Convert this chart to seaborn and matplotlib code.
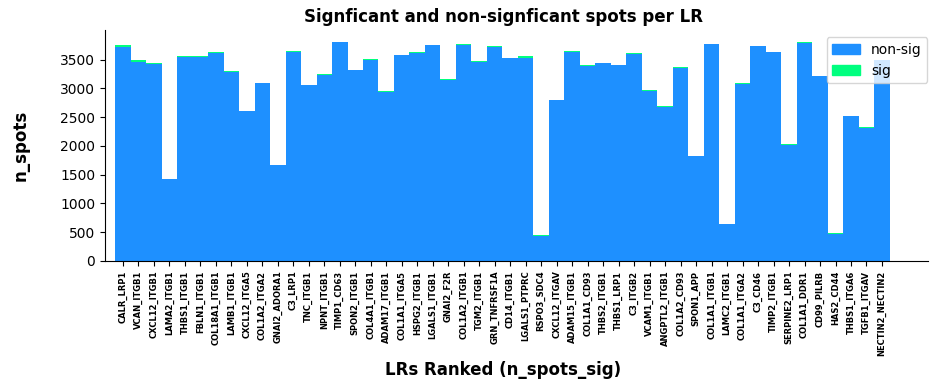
import matplotlib
matplotlib.use('Agg')
import matplotlib.pyplot as plt
import matplotlib.patches as mpatches
import pandas as pd
import numpy as np
import seaborn as sns

lrs = ['CALR_LRP1', 'VCAN_ITGB1', 'CXCL12_ITGB1', 'LAMA2_ITGB1', 'THBS1_ITGB1',
       'FBLN1_ITGB1', 'COL18A1_ITGB1', 'LAMB1_ITGB1', 'CXCL12_ITGA5', 'COL1A2_ITGA2',
       'GNAI2_ADORA1', 'C3_LRP1', 'TNC_ITGB1', 'NPNT_ITGB1', 'TIMP1_CD63',
       'SPON2_ITGB1', 'COL4A1_ITGB1', 'ADAM17_ITGB1', 'COL1A1_ITGA5', 'HSPG2_ITGB1',
       'LGALS1_ITGB1', 'GNAI2_F2R', 'COL1A2_ITGB1', 'TGM2_ITGB1', 'GRN_TNFRSF1A',
       'CD14_ITGB1', 'LGALS1_PTPRC', 'RSPO3_SDC4', 'CXCL12_ITGAV', 'ADAM15_ITGB1',
       'COL1A1_CD93', 'THBS2_ITGB1', 'THBS1_LRP1', 'C3_ITGB2', 'VCAM1_ITGB1',
       'ANGPTL2_ITGB1', 'COL1A2_CD93', 'SPON1_APP', 'COL1A1_ITGB1', 'LAMC2_ITGB1',
       'COL1A1_ITGA2', 'C3_CD46', 'TIMP2_ITGB1', 'SERPINE2_LRP1', 'COL1A1_DDR1',
       'CD99_PILRB', 'HAS2_CD44', 'THBS1_ITGA6', 'TGFB1_ITGAV', 'NECTIN2_NECTIN2']

# non-significant spot counts
n_nonsig = [3725, 3465, 3430, 1420, 3550, 3550, 3620, 3285, 2600, 3088,
            1665, 3630, 3052, 3235, 3810, 3312, 3498, 2928, 3570, 3620,
            3758, 3152, 3760, 3460, 3725, 3532, 3535, 440, 2788, 3630,
            3380, 3440, 3400, 3598, 2960, 2680, 3350, 1818, 3770, 645,
            3078, 3735, 3630, 2022, 3790, 3220, 470, 2522, 2312, 3492]

# significant spot counts
n_sig = [20, 19, 4, 3, 19, 18, 3, 19, 3, 3,
         2, 19, 3, 19, 2, 3, 3, 18, 4, 18,
         2, 2, 18, 18, 18, 3, 18, 17, 2, 19,
         17, 3, 2, 18, 3, 18, 18, 2, 2, 2,
         18, 2, 2, 17, 17, 2, 17, 2, 17, 2]

df = pd.DataFrame({'LR': lrs, 'non-sig': n_nonsig, 'sig': n_sig})
df['total'] = df['non-sig'] + df['sig']

fig, ax = plt.subplots(figsize=(9.38, 3.87), dpi=100)

# stacked bars: total in green underneath, non-sig blue on top
sns.barplot(data=df, x='LR', y='total', color='springgreen', width=1,
            saturation=1, linewidth=0, ax=ax, order=lrs)
sns.barplot(data=df, x='LR', y='non-sig', color='dodgerblue', width=1,
            saturation=1, linewidth=0, ax=ax, order=lrs)

ax.set_xlim(-1.15, 51.95)
ax.set_ylim(0, 4010)
ax.set_yticks(np.arange(0, 4000, 500))
ax.tick_params(axis='x', labelrotation=90, labelsize=6)
for lab in ax.get_xticklabels():
    lab.set_fontweight('bold')
ax.tick_params(axis='y', labelsize=10)

ax.set_title('Signficant and non-signficant spots per LR', fontweight='bold',
             fontsize=12, x=0.484)
ax.set_xlabel('LRs Ranked (n_spots_sig)', fontweight='bold', fontsize=12, x=0.484)
ax.set_ylabel('n_spots', fontweight='bold', fontsize=12, labelpad=22)
sns.despine(ax=ax)

handles = [mpatches.Patch(color='dodgerblue', label='non-sig'),
           mpatches.Patch(color='springgreen', label='sig')]
ax.legend(handles=handles, loc='upper right', fontsize=10,
          bbox_to_anchor=(1.008, 1.0))

plt.subplots_adjust(left=0.112, right=0.989, top=0.922, bottom=0.326)
plt.savefig('out.png', dpi=100)
